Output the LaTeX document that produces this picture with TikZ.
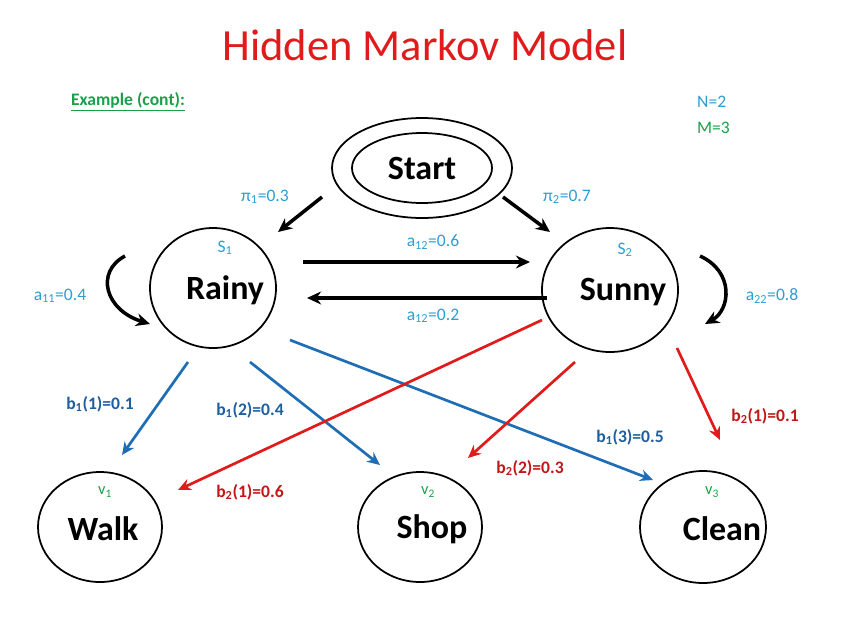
\documentclass[tikz,border=0pt]{standalone}
\usepackage{fontspec}
\setmainfont{Carlito}
\usetikzlibrary{arrows.meta}
\definecolor{cy}{HTML}{2B9FD0}
\definecolor{gr}{HTML}{1AA04A}
\definecolor{bl}{HTML}{1F6EB5}
\definecolor{rd}{HTML}{E01B1B}
\definecolor{dbl}{HTML}{1F5E9E}
\definecolor{drd}{HTML}{C01818}
\begin{document}
\begin{tikzpicture}[x=0.03cm,y=-0.03cm,
 st/.style={draw,line width=1.2pt,ellipse},
 nm/.style={font=\fontsize{29}{34}\selectfont\bfseries},
 lab/.style={text=cy,font=\fontsize{15}{18}\selectfont},
 blab/.style={text=dbl,font=\fontsize{15}{18}\selectfont\bfseries},
 rlab/.style={text=drd,font=\fontsize{15}{18}\selectfont\bfseries},
 bk/.style={-{Stealth[length=12pt,width=11pt]},line width=3pt},
 ba/.style={-{Stealth[length=11pt,width=10pt]},line width=2.3pt,bl},
 ra/.style={-{Stealth[length=11pt,width=10pt]},line width=2.3pt,rd}]
\useasboundingbox (0,0) rectangle (850,638);
\node[text=rd,font=\fontsize{38}{44}\selectfont] (title) at (425,45) {Hidden Markov Model};
\node[text=gr,font=\fontsize{15}{18}\selectfont\bfseries] (ex) at (128,102) {\underline{Example (cont):}};
\node[text=cy,font=\fontsize{15}{18}\selectfont,anchor=west] (n) at (693,102) {N=2};
\node[text=gr,font=\fontsize{15}{18}\selectfont,anchor=west] (m) at (693,128) {M=3};
% states
\draw[line width=1.5pt] (422,168) ellipse [x radius=90,y radius=50];
\draw[line width=1.5pt] (422,168) ellipse [x radius=70,y radius=35];
\node[nm] (start) at (422,168) {Start};
\draw[line width=1.5pt] (213,288) ellipse [x radius=63,y radius=60];
\node[nm] (rainy) at (225,290) {Rainy};
\draw[line width=1.5pt] (610,290) ellipse [x radius=68,y radius=62];
\node[nm] (sunny) at (623,292) {Sunny};
\node[lab] (s1) at (225,248) {S\textsubscript{1}};
\node[lab] (s2) at (625,250) {S\textsubscript{2}};
\draw[line width=1.5pt] (100,527) ellipse [x radius=62,y radius=55];
\draw[line width=1.5pt] (420,527) ellipse [x radius=62,y radius=55];
\draw[line width=1.5pt] (703,527) ellipse [x radius=63,y radius=56];
\node[nm] (walk) at (103,529) {Walk};
\node[nm] (shop) at (432,529) {Shop};
\node[nm] (clean) at (722,529) {Clean};
\node[text=gr,font=\fontsize{14}{16}\selectfont] (v1) at (105,492) {v\textsubscript{1}};
\node[text=gr,font=\fontsize{14}{16}\selectfont] (v2) at (428,492) {v\textsubscript{2}};
\node[text=gr,font=\fontsize{14}{16}\selectfont] (v3) at (712,492) {v\textsubscript{3}};
% coordinates
\coordinate (p1a) at (322,197); \coordinate (p1b) at (278,232);
\coordinate (p2a) at (503,197); \coordinate (p2b) at (550,232);
\coordinate (t1a) at (303,262); \coordinate (t1b) at (530,262);
\coordinate (t2a) at (547,298); \coordinate (t2b) at (307,298);
\coordinate (l1a) at (125,256); \coordinate (l1b) at (150,324);
\coordinate (l2a) at (700,256); \coordinate (l2b) at (705,324);
\draw[bk] (p1a) -- (p1b);
\draw[bk] (p2a) -- (p2b);
\draw[bk] (t1a) -- (t1b);
\draw[bk] (t2a) -- (t2b);
\draw[bk] (l1a) .. controls (95,272) and (105,310) .. (l1b);
\draw[bk] (l2a) .. controls (735,272) and (730,310) .. (l2b);
\node[lab] (pi1) at (265,197) {π\textsubscript{1}=0.3};
\node[lab] (pi2) at (567,197) {π\textsubscript{2}=0.7};
\node[lab] (a12) at (433,242) {a\textsubscript{12}=0.6};
\node[lab] (a21) at (433,316) {a\textsubscript{12}=0.2};
\node[lab] (a11) at (60,296) {a\textsubscript{11}=0.4};
\node[lab] (a22) at (772,296) {a\textsubscript{22}=0.8};
% emissions
\coordinate (b1a) at (188,362); \coordinate (b1b) at (122,455);
\coordinate (b2a) at (250,362); \coordinate (b2b) at (380,465);
\coordinate (b3a) at (290,340); \coordinate (b3b) at (653,480);
\coordinate (r1a) at (542,320); \coordinate (r1b) at (178,490);
\coordinate (r2a) at (575,362); \coordinate (r2b) at (468,458);
\coordinate (r3a) at (677,348); \coordinate (r3b) at (720,440);
\draw[ba] (b1a) -- (b1b);
\draw[ba] (b2a) -- (b2b);
\draw[ba] (b3a) -- (b3b);
\draw[ra] (r1a) -- (r1b);
\draw[ra] (r2a) -- (r2b);
\draw[ra] (r3a) -- (r3b);
\node[blab] (lb1) at (100,404) {b\textsubscript{1}(1)=0.1};
\node[blab] (lb2) at (250,410) {b\textsubscript{1}(2)=0.4};
\node[blab] (lb3) at (630,437) {b\textsubscript{1}(3)=0.5};
\node[rlab] (lr1) at (250,492) {b\textsubscript{2}(1)=0.6};
\node[rlab] (lr2) at (530,468) {b\textsubscript{2}(2)=0.3};
\node[rlab] (lr3) at (765,416) {b\textsubscript{2}(1)=0.1};
\end{tikzpicture}
\end{document}
